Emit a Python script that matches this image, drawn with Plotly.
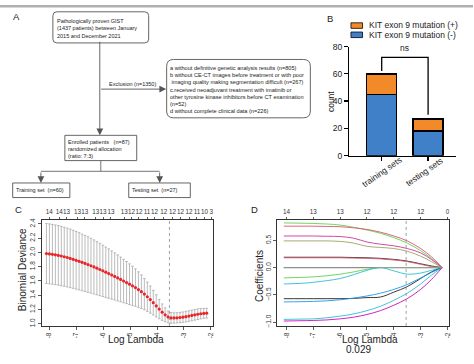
import numpy as np
import plotly.graph_objects as go

W, H = 474, 364
FONT = "Liberation Sans, Arial, sans-serif"

# ---------------- Panel A (flowchart text) ----------------
box1_lines = ["Pathologically proven GIST", "(1437 patients) between January", "2015 and December 2021"]
excl_label = "Exclusion (n=1350)"
excl_lines = [
    "a without definitive genetic analysis results (n=805)",
    "b without CE-CT images before treatment or with poor",
    " imaging quality making segmentation difficult (n=267)",
    "c.received neoadjuvant treatment with imatinib or",
    "other tyrosine kinase inhibitors before CT examination",
    "(n=52)",
    "d without complete clinical data (n=226)",
]
enrol_lines = ["Enrolled patients   (n=87)", "randomized allocation", "(ratio: 7:3)"]
train_text = "Training set  (n=60)"
test_text = "Testing set  (n=27)"

# ---------------- Panel B ----------------
sets = ["training sets", "testing sets"]
kit9_neg = [45, 18]
kit9_pos = [15, 9]
legend_pos = "KIT exon 9 mutation (+)"
legend_neg = "KIT exon 9 mutation (-)"
bracket_left_y = 62
bracket_top_y = 72
bracket_right_y = 30
sig_text = "ns"

# ---------------- Panel C ----------------
cv_loglambda = [-8.10, -7.99, -7.88, -7.77, -7.66, -7.55, -7.44, -7.33, -7.22, -7.11,
                -7.00, -6.89, -6.78, -6.67, -6.56, -6.45, -6.34, -6.23, -6.12, -6.01,
                -5.90, -5.79, -5.68, -5.57, -5.46, -5.35, -5.24, -5.13, -5.02, -4.91,
                -4.80, -4.69, -4.58, -4.47, -4.36, -4.25, -4.14, -4.03, -3.92, -3.81,
                -3.70, -3.59, -3.48, -3.37, -3.26, -3.15, -3.04, -2.93, -2.82, -2.71,
                -2.60, -2.49, -2.38, -2.27, -2.16]
cv_mean = [1.985, 1.980, 1.974, 1.967, 1.959, 1.950, 1.940, 1.929, 1.917, 1.904,
           1.890, 1.876, 1.861, 1.846, 1.830, 1.814, 1.797, 1.779, 1.761, 1.742,
           1.723, 1.704, 1.684, 1.664, 1.643, 1.622, 1.600, 1.578, 1.555, 1.532,
           1.508, 1.480, 1.450, 1.416, 1.379, 1.339, 1.296, 1.251, 1.206, 1.163,
           1.126, 1.097, 1.083, 1.082, 1.084, 1.088, 1.093, 1.100, 1.108, 1.117,
           1.126, 1.134, 1.141, 1.146, 1.149]
cv_sd = [0.420, 0.420, 0.419, 0.418, 0.417, 0.416, 0.414, 0.412, 0.410, 0.407,
         0.404, 0.401, 0.397, 0.393, 0.389, 0.384, 0.379, 0.373, 0.367, 0.360,
         0.353, 0.346, 0.338, 0.330, 0.322, 0.313, 0.304, 0.295, 0.285, 0.275,
         0.262, 0.249, 0.235, 0.220, 0.205, 0.190, 0.173, 0.155, 0.135, 0.115,
         0.097, 0.083, 0.075, 0.072, 0.071, 0.072, 0.073, 0.074, 0.075, 0.075,
         0.075, 0.074, 0.072, 0.070, 0.068]
cv_top_pos = [-8.0, -7.63, -7.36, -6.95, -6.68, -6.27, -6.0, -5.71, -5.22, -4.95,
              -4.67, -4.37, -4.09, -3.75, -3.43, -3.13, -2.81, -2.52, -2.24, -1.99]
cv_top_text = ["14", "14", "13", "13", "13", "13", "13", "13", "13", "12",
               "12", "11", "12", "12", "12", "12", "12", "11", "10", "3"]
cv_yticks = [1.0, 1.2, 1.4, 1.6, 1.8, 2.0, 2.2, 2.4]
lambda_min = 0.029
x_ticks = [-8, -7, -6, -5, -4, -3, -2]

# ---------------- Panel D ----------------
path_loglambda = [-8.1, -7.5, -7.0, -6.5, -6.0, -5.5, -5.0, -4.5, -4.0, -3.5, -3.0, -2.6, -2.2]
coef_1 = [0.82, 0.815, 0.81, 0.80, 0.78, 0.74, 0.69, 0.63, 0.55, 0.45, 0.31, 0.17, 0.0]
coef_2 = [0.76, 0.76, 0.76, 0.755, 0.75, 0.73, 0.70, 0.65, 0.58, 0.49, 0.35, 0.20, 0.0]
coef_3 = [0.58, 0.58, 0.58, 0.575, 0.57, 0.54, 0.47, 0.43, 0.40, 0.35, 0.27, 0.15, 0.0]
coef_4 = [0.49, 0.49, 0.49, 0.49, 0.48, 0.45, 0.39, 0.37, 0.35, 0.30, 0.21, 0.11, 0.0]
coef_5 = [0.19, 0.19, 0.19, 0.19, 0.19, 0.185, 0.18, 0.17, 0.15, 0.12, 0.07, 0.03, 0.0]
coef_6 = [0.18, 0.18, 0.18, 0.18, 0.18, 0.175, 0.17, 0.16, 0.14, 0.11, 0.06, 0.02, 0.0]
coef_7 = [0.0, 0.0, 0.0, 0.0, 0.0, 0.0, 0.0, 0.0, 0.0, 0.0, 0.0, 0.0, 0.0]
coef_8 = [-0.19, -0.18, -0.17, -0.15, -0.12, -0.08, -0.03, 0.0, 0.0, 0.0, 0.0, 0.0, 0.0]
coef_9 = [-0.30, -0.29, -0.27, -0.24, -0.20, -0.13, -0.05, 0.0, -0.06, -0.12, -0.10, -0.05, 0.0]
coef_10 = [-0.57, -0.57, -0.57, -0.57, -0.57, -0.565, -0.55, -0.54, -0.45, -0.35, -0.20, -0.08, 0.0]
coef_11 = [-0.63, -0.625, -0.62, -0.61, -0.59, -0.56, -0.52, -0.47, -0.40, -0.31, -0.19, -0.09, 0.0]
coef_12 = [-0.95, -0.945, -0.94, -0.92, -0.89, -0.85, -0.79, -0.71, -0.60, -0.47, -0.30, -0.14, 0.0]
coef_13 = [-0.98, -0.975, -0.97, -0.96, -0.94, -0.91, -0.86, -0.79, -0.69, -0.57, -0.40, -0.22, 0.0]
coef_14 = [0.0, 0.0, 0.0, 0.0, 0.0, 0.0, 0.0, 0.0, 0.0, 0.0, 0.0, 0.0, 0.0]
coef_paths = [coef_1, coef_2, coef_3, coef_4, coef_5, coef_6, coef_7,
              coef_8, coef_9, coef_10, coef_11, coef_12, coef_13, coef_14]
coef_colors = ["#61D04F", "#DF536B", "#C8389E", "#A0A060", "#222222", "#DF536B", "#222222",
               "#61D04F", "#28BFD0", "#222222", "#2297E6", "#28BFD0", "#CD0BBC", "#9E9E9E"]
path_top_pos = [-8, -7, -6, -5, -4, -3, -2]
path_top_text = ["14", "13", "13", "12", "12", "12", "0"]
coef_yticks = [-1.0, -0.5, 0.0, 0.5]

assert len(cv_loglambda) == len(cv_mean) == len(cv_sd)


def px(x):
    return x / W


def py(y):
    return 1 - y / H


fig = go.Figure()

# ---- Panel B bars ----
fig.add_trace(go.Bar(x=[0, 1], y=kit9_neg, width=0.645, xaxis="x5", yaxis="y5",
                     marker=dict(color="#3F80C8", line=dict(color="black", width=1.5)),
                     showlegend=False, hoverinfo="skip"))
fig.add_trace(go.Bar(x=[0, 1], y=kit9_pos, width=0.645, xaxis="x5", yaxis="y5",
                     marker=dict(color="#F28A2A", line=dict(color="black", width=1.5)),
                     showlegend=False, hoverinfo="skip"))

# ---- Panel C ----
fig.add_trace(go.Scatter(x=cv_loglambda, y=cv_mean, mode="markers", xaxis="x", yaxis="y",
                         marker=dict(color="#E8262A", size=3.2),
                         error_y=dict(type="data", array=cv_sd, color="#AAAAAA",
                                      thickness=0.8, width=1.3),
                         showlegend=False, hoverinfo="skip"))
fig.add_trace(go.Scatter(x=[cv_loglambda[0]], y=[cv_mean[0]], mode="markers", xaxis="x2", yaxis="y",
                         marker=dict(opacity=0), showlegend=False, hoverinfo="skip"))

# ---- Panel D ----
for vals, col in zip(coef_paths, coef_colors):
    fig.add_trace(go.Scatter(x=path_loglambda, y=vals, mode="lines", xaxis="x3", yaxis="y3",
                             line=dict(color=col, width=0.9, shape="spline"),
                             showlegend=False, hoverinfo="skip"))
fig.add_trace(go.Scatter(x=[path_loglambda[0]], y=[coef_1[0]], mode="markers", xaxis="x4", yaxis="y3",
                         marker=dict(opacity=0), showlegend=False, hoverinfo="skip"))

shapes = []
ann = []

# top gray band
shapes.append(dict(type="rect", xref="paper", yref="paper", x0=0, x1=1, y0=py(2.5), y1=1,
                   fillcolor="#B0B0B0", line=dict(width=0), layer="above"))


def rrect(x0, y0, x1, y1, r):
    pts = (f"M {px(x0 + r)},{py(y0)} L {px(x1 - r)},{py(y0)} Q {px(x1)},{py(y0)} {px(x1)},{py(y0 + r)} "
           f"L {px(x1)},{py(y1 - r)} Q {px(x1)},{py(y1)} {px(x1 - r)},{py(y1)} "
           f"L {px(x0 + r)},{py(y1)} Q {px(x0)},{py(y1)} {px(x0)},{py(y1 - r)} "
           f"L {px(x0)},{py(y0 + r)} Q {px(x0)},{py(y0)} {px(x0 + r)},{py(y0)} Z")
    return dict(type="path", xref="paper", yref="paper", path=pts,
                line=dict(color="#555555", width=0.9))


def rect(x0, y0, x1, y1):
    return dict(type="rect", xref="paper", yref="paper", x0=px(x0), x1=px(x1), y0=py(y1), y1=py(y0),
                line=dict(color="#555555", width=0.9))


def line(x0, y0, x1, y1, col="#666666"):
    return dict(type="line", xref="paper", yref="paper", x0=px(x0), x1=px(x1), y0=py(y0), y1=py(y1),
                line=dict(color=col, width=0.9))


def txt(x, y, s, size=5.5, xanchor="left", color="#222222", angle=0):
    return dict(x=px(x), y=py(y), xref="paper", yref="paper", text=s, showarrow=False,
                xanchor=xanchor, yanchor="middle", textangle=angle,
                font=dict(family=FONT, size=size, color=color))


def arrow(xh, yh, dx, dy):
    return dict(x=px(xh), y=py(yh), xref="paper", yref="paper", ax=dx, ay=dy, text="",
                showarrow=True, arrowhead=2, arrowsize=1.5, arrowwidth=0.9, arrowcolor="#555555")


# ---- Panel A flowchart ----
ann.append(txt(11, 12, "A", size=9.5))
shapes.append(rrect(53, 7, 149, 39, 4))
for i, s in enumerate(box1_lines):
    ann.append(txt(55, 16 + 8 * i, s))
ann.append(arrow(100, 134, 0, -95))
ann.append(arrow(166.5, 86.5, -66.5, 0))
ann.append(txt(133, 81, excl_label, xanchor="center"))
shapes.append(rrect(167, 56, 311, 116, 7))
for i, s in enumerate(excl_lines):
    ann.append(txt(168.5, 65 + 7.3 * i, s, size=5.6))
shapes.append(rect(65, 134, 137, 160))
for i, s in enumerate(enrol_lines):
    ann.append(txt(66.5, 140.7 + 7.5 * i, s))
shapes.append(line(101, 160, 101, 171))
shapes.append(line(41, 171, 160, 171))
ann.append(arrow(41, 183, 0, -12))
ann.append(arrow(160, 183, 0, -12))
shapes.append(rect(12.7, 183, 70, 198))
ann.append(txt(14, 190.7, train_text))
shapes.append(rect(129, 183, 190.7, 198))
ann.append(txt(130.5, 190.7, test_text))

# ---- Panel B decorations ----
ann.append(txt(326, 14, "B", size=9.5))
shapes.append(dict(type="rect", xref="paper", yref="paper", x0=px(351.7), x1=px(363.3), y0=py(24), y1=py(18.3),
                   fillcolor="#F28A2A", line=dict(color="black", width=0.8)))
shapes.append(dict(type="rect", xref="paper", yref="paper", x0=px(351.7), x1=px(363.3), y0=py(33.5), y1=py(27.8),
                   fillcolor="#3F80C8", line=dict(color="black", width=0.8)))
ann.append(txt(368, 21, legend_pos, size=8.5))
ann.append(txt(368, 30.7, legend_neg, size=8.5))
shapes.append(dict(type="path", xref="x5", yref="y5",
                   path=f"M 0,{bracket_left_y} L 0,{bracket_top_y} L 1,{bracket_top_y} L 1,{bracket_right_y}",
                   line=dict(color="black", width=1.3)))
ann.append(dict(x=0.5, y=bracket_top_y + 2, xref="x5", yref="y5", text=sig_text, showarrow=False,
                yanchor="bottom", font=dict(family=FONT, size=8.5, color="#222222")))
ann.append(txt(331.5, 99, "count", size=8.5, xanchor="center", angle=-90))
ann.append(dict(x=0, y=py(171.7), xref="x5", yref="paper", text=sets[0], showarrow=False,
                xanchor="center", yanchor="middle", textangle=-35,
                font=dict(family=FONT, size=8.5, color="#222222")))
ann.append(dict(x=1, y=py(172), xref="x5", yref="paper", text=sets[1], showarrow=False,
                xanchor="center", yanchor="middle", textangle=-35, xshift=-4,
                font=dict(family=FONT, size=8.5, color="#222222")))

# ---- Panel C / D labels ----
ann.append(txt(13, 210, "C", size=9.5))
ann.append(txt(250, 210, "D", size=9.5))
ann.append(txt(22.7, 272, "Binomial Deviance", size=10, xanchor="center", angle=-90))
ann.append(txt(136, 344, "Log Lambda", size=10, xanchor="center"))
ann.append(txt(260.3, 279, "Coefficients", size=10, xanchor="center", angle=-90))
ann.append(txt(371, 344, "Log Lambda", size=10, xanchor="center"))
ann.append(txt(359, 354.5, f"{lambda_min:.3f}", size=10, xanchor="center"))

log_lmin = float(np.log(lambda_min))
for xr in ("x", "x3"):
    shapes.append(dict(type="line", xref=xr, yref=("y" if xr == "x" else "y3") + " domain",
                       x0=log_lmin, x1=log_lmin, y0=0, y1=1,
                       line=dict(color="#888888", width=0.8, dash="dot")))

tickfont_small = dict(family=FONT, size=6.5, color="#333333")
frame = dict(showline=True, mirror=True, linecolor="#333333", linewidth=1, ticks="outside",
             ticklen=3, tickcolor="#333333", tickwidth=0.8, showgrid=False, zeroline=False,
             tickfont=tickfont_small)

ydom = [py(330), py(220.7)]
xtick_text = [str(v) for v in x_ticks]

fig.update_layout(
    width=W, height=H, margin=dict(l=0, r=0, t=0, b=0),
    paper_bgcolor="white", plot_bgcolor="white", barmode="stack", bargap=0,
    font=dict(family=FONT),
    xaxis=dict(domain=[px(41.7), px(213.3)], range=[-8.28, -1.93], anchor="y",
               tickvals=x_ticks, ticktext=xtick_text, tickangle=-90, **frame),
    yaxis=dict(domain=ydom, range=[0.97, 2.46], anchor="x", tickvals=cv_yticks,
               tickformat=".1f", tickangle=-90, **frame),
    xaxis2=dict(overlaying="x", side="top", anchor="y", range=[-8.28, -1.93],
                tickvals=cv_top_pos, ticktext=cv_top_text, tickangle=0, ticks="outside",
                ticklen=2, tickcolor="#333333", tickwidth=0.8, showline=False, showgrid=False,
                zeroline=False, tickfont=dict(family=FONT, size=6.3, color="#333333")),
    xaxis3=dict(domain=[px(277.7), px(450.3)], range=[-8.35, -1.93], anchor="y3",
                tickvals=x_ticks, ticktext=xtick_text, tickangle=-90, **frame),
    yaxis3=dict(domain=ydom, range=[-1.07, 0.88], anchor="x3", tickvals=coef_yticks,
                tickformat=".1f", tickangle=-90, **frame),
    xaxis4=dict(overlaying="x3", side="top", anchor="y3", range=[-8.35, -1.93],
                tickvals=path_top_pos, ticktext=path_top_text, tickangle=0, ticks="outside",
                ticklen=2, tickcolor="#333333", tickwidth=0.8, showline=False, showgrid=False,
                zeroline=False, tickfont=dict(family=FONT, size=6.3, color="#333333")),
    xaxis5=dict(domain=[px(350), px(457)], range=[-0.699, 1.602], anchor="y5",
                showline=True, linecolor="black", linewidth=1.3, ticks="outside", ticklen=4,
                tickwidth=1.3, tickcolor="black", tickvals=[0, 1], ticktext=["", ""],
                showgrid=False, zeroline=False),
    yaxis5=dict(domain=[py(155), py(42.7)], range=[0, 80], anchor="x5",
                showline=True, linecolor="black", linewidth=1.3, ticks="outside", ticklen=4,
                tickwidth=1.3, tickcolor="black", dtick=20, showgrid=False, zeroline=False,
                tickfont=dict(family=FONT, size=8.5, color="#222222")),
    shapes=shapes, annotations=ann,
)

fig.write_html("out.html", config={"displayModeBar": False, "staticPlot": True},
               post_script="document.body.style.margin='0px';document.body.style.overflow='hidden';")
